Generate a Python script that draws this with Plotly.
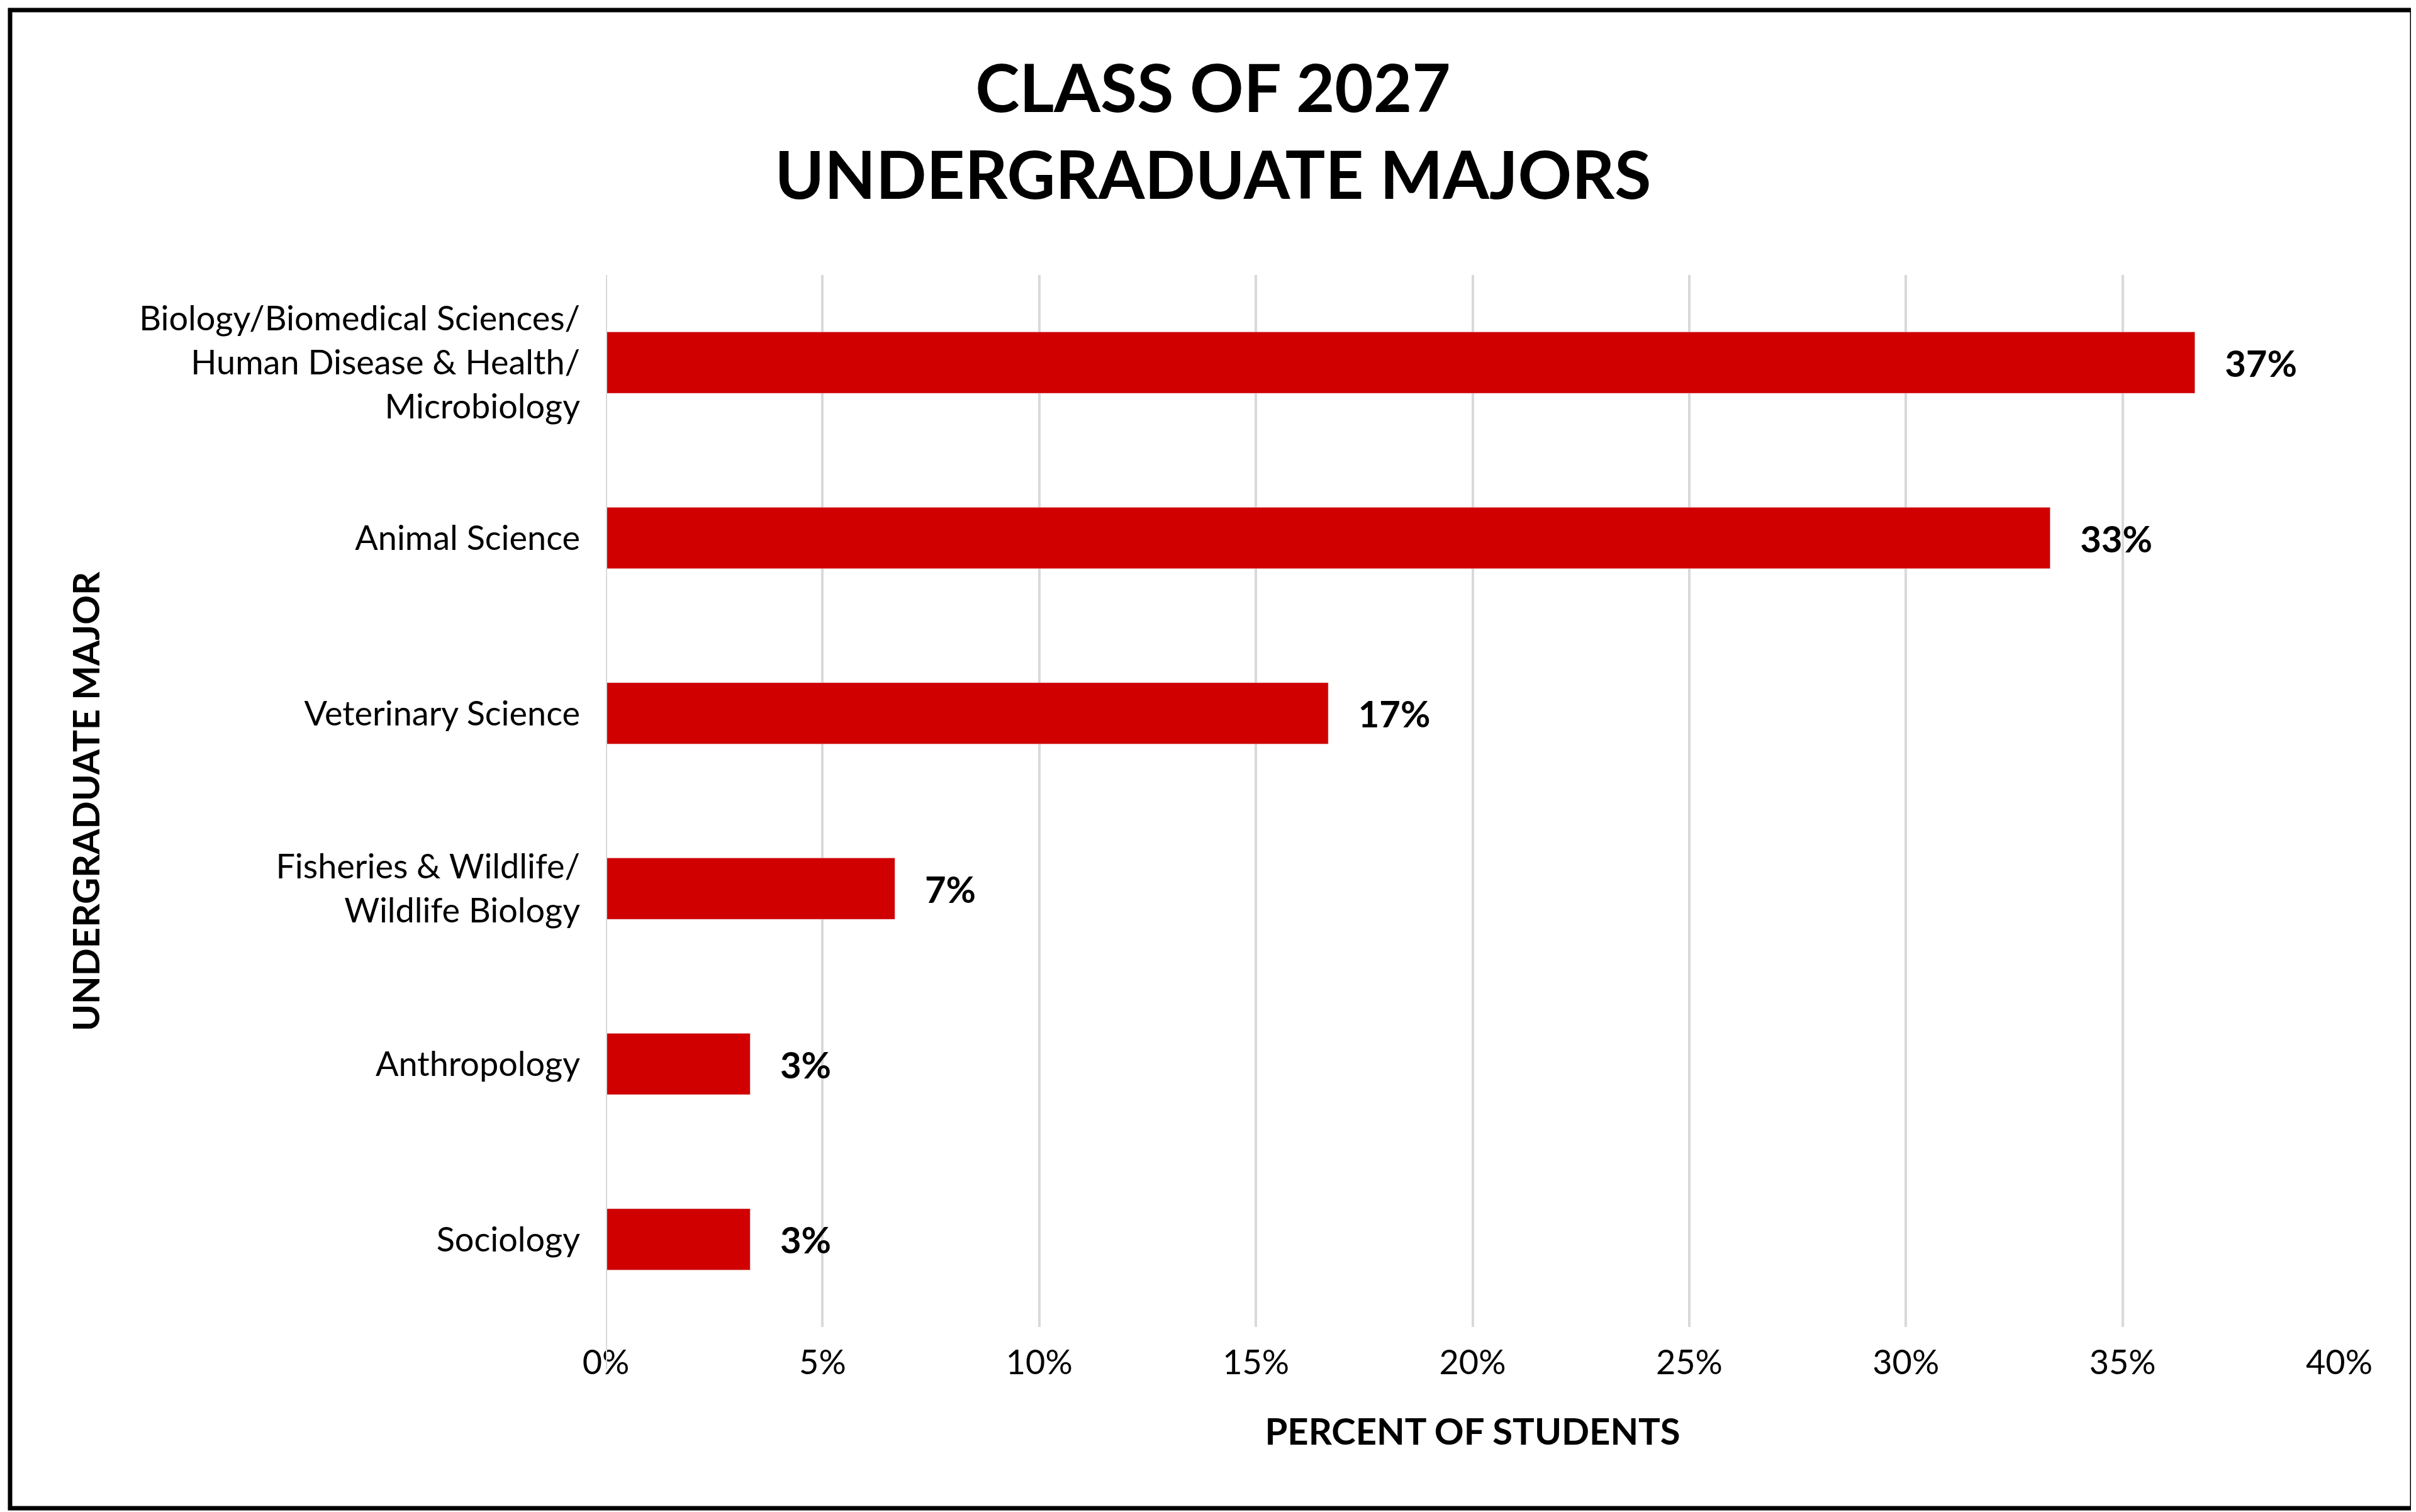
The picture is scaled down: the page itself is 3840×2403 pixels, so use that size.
import plotly.graph_objects as go

majors = ["Biology/Biomedical Sciences/<br>Human Disease & Health/<br>Microbiology",
          "Animal Science", "Veterinary Science",
          "Fisheries & Wildlife/<br>Wildlife Biology", "Anthropology", "Sociology"]
percents = [36.67, 33.33, 16.67, 6.67, 3.33, 3.33]
labels = [f"{p:.0f}%" for p in percents]
tick_vals = [0, 5, 10, 15, 20, 25, 30, 35, 40]

W, H = 3840, 2403
L, R, T, B = 955, 130, 429, 302
pw, ph = W - L - R, H - T - B
font = "Lato, Open Sans, sans-serif"

fig = go.Figure(go.Bar(
    x=percents, y=majors, orientation="h",
    marker_color="#D00000", text=labels, textposition="outside",
    textfont=dict(size=58, color="black", family=font), cliponaxis=False,
))
fig.update_traces(texttemplate="   <b>%{text}</b>")

fig.update_layout(
    width=W, height=H, plot_bgcolor="white", paper_bgcolor="white",
    margin=dict(l=L, r=R, t=T, b=B),
    bargap=0.65, showlegend=False,
    font=dict(family=font, size=54, color="black"),
    title=dict(text="<b>CLASS OF 2027<br>UNDERGRADUATE MAJORS</b>", x=0.5, xanchor="center",
               y=1 - 170 / H, yanchor="middle", font=dict(size=106, family=font)),
    xaxis=dict(range=[0, 40], tickvals=tick_vals, ticktext=[f"{v}%" for v in tick_vals],
               showgrid=True, gridcolor="#D9D9D9", gridwidth=4, zeroline=False,
               ticks="", tickfont=dict(size=54), ticklabelstandoff=20,
               title=dict(text="<b>PERCENT OF STUDENTS</b>", font=dict(size=58), standoff=60)),
    yaxis=dict(autorange="reversed", ticks="", tickfont=dict(size=54),
               ticklabelstandoff=40, showline=False),
)
fig.add_vline(x=0, line_color="#D9D9D9", line_width=4, y0=-0.04, y1=1)
fig.add_annotation(text="<b>UNDERGRADUATE MAJOR</b>", textangle=-90, xref="paper", yref="paper",
                   x=-(L - 127) / pw, y=0.5, xanchor="center", yanchor="middle",
                   showarrow=False, font=dict(size=58))
fig.add_shape(type="rect", xref="paper", yref="paper",
              x0=-(L - 8) / pw, x1=1 + (R - 14) / pw, y0=-(B - 14) / ph, y1=1 + (T - 8) / ph,
              line=dict(color="black", width=7))

fig.write_html("out.html")
